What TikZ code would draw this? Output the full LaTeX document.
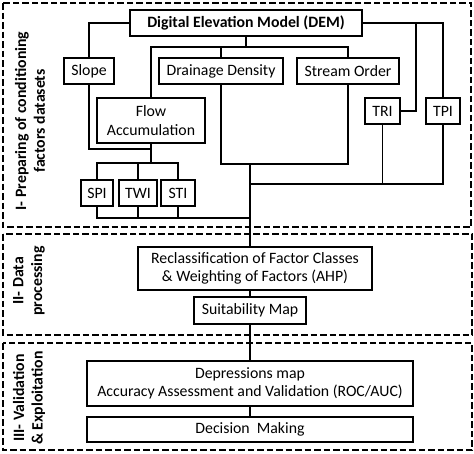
\documentclass[tikz,border=0pt]{standalone}
\usepackage{fontspec}
\setmainfont{Carlito}
\begin{document}
\begin{tikzpicture}[x=1pt,y=-1pt,
  box/.style={draw,line width=1.3pt,inner sep=0pt,align=center,font=\fontsize{15.8}{18.6}\selectfont},
  conn/.style={line width=1.3pt},
  sect/.style={line width=2.8pt,dash pattern=on 6.5pt off 3pt},
  slabel/.style={rotate=90,align=center,font=\fontsize{15.8}{18.6}\selectfont\bfseries}]
\useasboundingbox (0,0) rectangle (474,453);
% sections
\draw[sect] (3,3) rectangle (471,227);
\draw[sect] (3,234) rectangle (472,335);
\draw[sect] (3,343) rectangle (472,450);
\node[slabel] (l1) at (30,121) {I- Preparing of conditioning\\factors datasets};
\node[slabel] (l2) at (29,281) {II- Data\\processing};
\node[slabel] (l3) at (29,398) {III- Validation\\\& Exploitation};
% nodes
\node[box,minimum width=232pt,minimum height=26pt,font=\fontsize{15.8}{18}\selectfont\bfseries] (dem) at (246,23) {Digital Elevation Model (DEM)};
\node[box,minimum width=50pt,minimum height=26pt] (slope) at (89,71) {Slope};
\node[box,minimum width=124pt,minimum height=26pt] (dd) at (221,71) {Drainage Density};
\node[box,minimum width=102pt,minimum height=26pt] (so) at (348,71) {Stream Order};
\node[box,minimum width=108pt,minimum height=45pt] (fa) at (151,120.5) {Flow\\Accumulation};
\node[box,minimum width=35pt,minimum height=26pt] (tri) at (382.5,111) {TRI};
\node[box,minimum width=34pt,minimum height=26pt] (tpi) at (443,111) {TPI};
\node[box,minimum width=32pt,minimum height=26pt] (spi) at (97,193) {SPI};
\node[box,minimum width=38pt,minimum height=26pt] (twi) at (138,193) {TWI};
\node[box,minimum width=34pt,minimum height=26pt] (sti) at (178,193) {STI};
\node[box,minimum width=234pt,minimum height=43pt] (rec) at (255,268.5) {Reclassification of Factor Classes\\\& Weighting of Factors (AHP)};
\node[box,minimum width=112pt,minimum height=27pt] (suit) at (250,310.5) {Suitability Map};
\node[box,minimum width=326pt,minimum height=45pt] (dep) at (250,383.5) {Depressions map\\Accuracy Assessment and Validation (ROC/AUC)};
\node[box,minimum width=326pt,minimum height=25pt] (dec) at (250,429.5) {Decision\ \ Making};
% junctions
\coordinate (jd) at (246,47);
\coordinate (jf) at (151,149);
\coordinate (jb) at (151,163);
\coordinate (j2) at (250,164);
\coordinate (j3) at (250,184);
\coordinate (j4) at (250,218);
\coordinate (j5) at (416,23);
% connectors
\draw[conn] (dem.west) -| (slope.north);
\draw[conn] (slope.south) |- (jf);
\draw[conn] (fa.south) -- (jb);
\draw[conn] (spi.north) |- (jb) -| (sti.north);
\draw[conn] (twi.north) -- (twi.north |- jb);
\draw[conn] (dem.south) -- (jd);
\draw[conn] (fa.north) |- (jd) -| (so.north);
\draw[conn] (dd.north) -- (dd.north |- jd);
\draw[conn] (dd.south) |- (j2);
\draw[conn] (so.south) |- (j2);
\draw[conn] (j2) -- (j2 |- rec.north);
\draw[conn] (j3) -| (tpi.south);
\draw[conn] (tri.south) -- (tri.south |- j3);
\draw[conn] (spi.south) |- (j4);
\draw[conn] (twi.south) -- (twi.south |- j4);
\draw[conn] (sti.south) -- (sti.south |- j4);
\draw[conn] (dem.east) -| (tpi.north);
\draw[conn] (j5) |- (tri.east);
\draw[conn] (suit.north) -- (suit.north |- rec.south);
\draw[conn] (suit.south) -- (dep.north);
\draw[conn] (dep.south) -- (dec.north);
\end{tikzpicture}
\end{document}
